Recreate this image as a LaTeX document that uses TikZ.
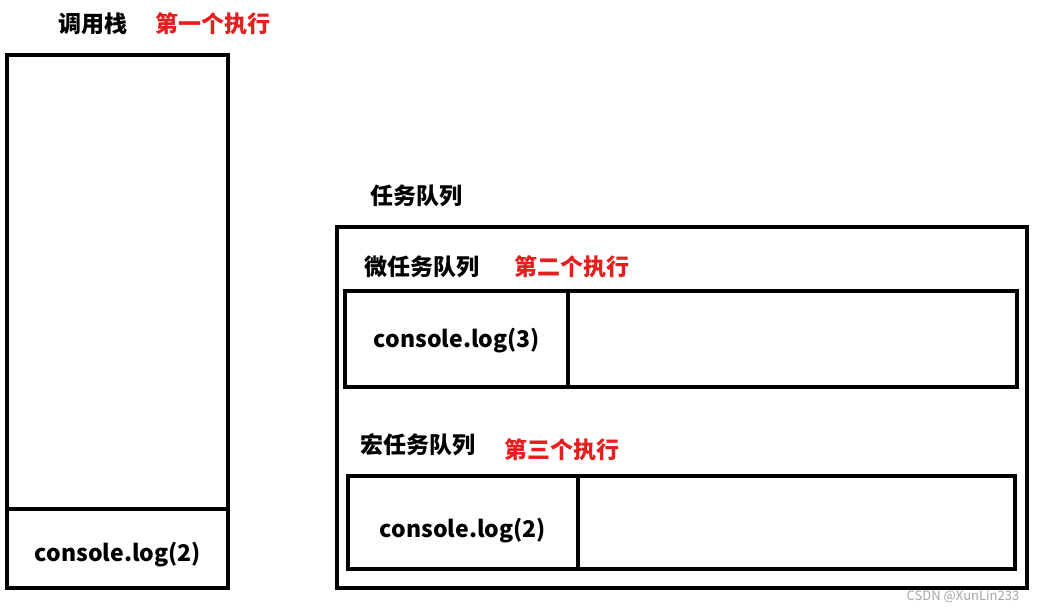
\documentclass[tikz,border=0pt]{standalone}
\usepackage{fontspec}
\setmainfont{Noto Sans CJK SC}
\newfontfamily\cjk{Noto Sans CJK SC}
\begin{document}
\begin{tikzpicture}[x=1pt,y=-1pt,
  box/.style={draw=black,line width=3.5pt},
  lbl/.style={font=\cjk\bfseries\fontsize{23}{26}\selectfont,inner sep=0},
  red/.style={lbl,text={rgb,255:red,230;green,30;blue,30}},
  code/.style={font=\cjk\bfseries\fontsize{23}{26}\selectfont,inner sep=0}]
\useasboundingbox (0,0) rectangle (1041,612);
\node[lbl] (t1) at (93,24) {调用栈};
\node[red] (r1) at (213,24) {第一个执行};
\draw[box] (7,55) rectangle (228,588);
\draw[box] (7,509) -- (230,509);
\node[code] (c1) at (118,555) {console.log(2)};
\node[lbl] (t2) at (416,196) {任务队列};
\draw[box] (337,227) rectangle (1027,588);
\node[lbl] (t3) at (422,267) {微任务队列};
\node[red] (r2) at (572,267) {第二个执行};
\draw[box] (345,291) rectangle (1017,387);
\draw[box] (568,291) -- (568,387);
\node[code] (c2) at (457,341) {console.log(3)};
\node[lbl] (t4) at (418,445) {宏任务队列};
\node[red] (r3) at (562,450) {第三个执行};
\draw[box] (348,476) rectangle (1015,569);
\draw[box] (578,476) -- (578,569);
\node[code] (c3) at (463,531) {console.log(2)};
\node[font=\cjk\fontsize{13}{15}\selectfont,text=gray!70,inner sep=0] (w) at (963,597) {CSDN @XunLin233};
\end{tikzpicture}
\end{document}
